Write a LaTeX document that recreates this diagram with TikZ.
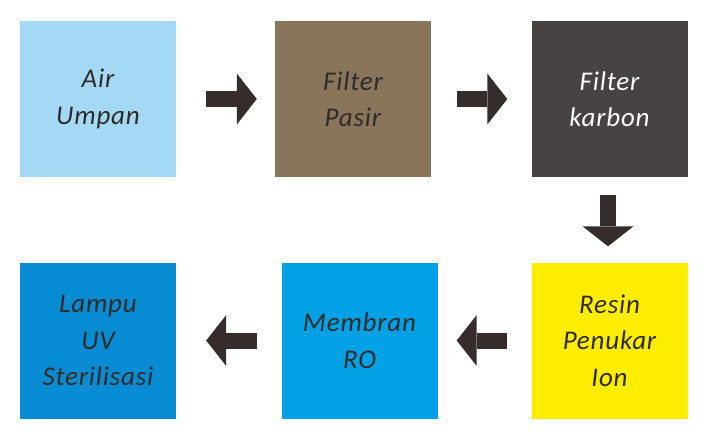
\documentclass[tikz,border=0pt]{standalone}
\usepackage{fontspec}
\setmainfont{Carlito}[LetterSpace=3]
\usetikzlibrary{arrows.meta}
\definecolor{umpanblue}{HTML}{A3D9F5}
\definecolor{sandbrown}{HTML}{89765A}
\definecolor{carbongray}{HTML}{474342}
\definecolor{resinyellow}{HTML}{FFED00}
\definecolor{roblue}{HTML}{00A1E5}
\definecolor{uvblue}{HTML}{078BD3}
\definecolor{arrowdark}{HTML}{342D2B}
\definecolor{textdark}{HTML}{2F2B2A}
\tikzset{
    proc-box/.style={
        rectangle, inner sep=0pt, minimum width=156pt, minimum height=156pt,
        align=center, text=textdark, font=\fontsize{27}{36.5}\selectfont\itshape
    },
    flow-arrow/.style={
        draw=arrowdark, line width=16pt,
        -{Triangle[length=20pt, width=51pt, line width=0pt]}
    },
}

\begin{document}
\begin{tikzpicture}[x=1pt, y=-1pt]

        \useasboundingbox (0,0) rectangle (706,440);

        % TOP ROW
        \node[proc-box, fill=umpanblue]  (AIR)    at (98,99)    {Air\\Umpan};
        \node[proc-box, fill=sandbrown]  (PASIR)  at (353,99)   {Filter\\Pasir};
        \node[proc-box, fill=carbongray, text=white] (KARBON) at (609.5,99) {Filter\\karbon};

        % BOTTOM ROW
        \node[proc-box, fill=resinyellow] (RESIN) at (609.5,340.5) {Resin\\Penukar\\Ion};
        \node[proc-box, fill=roblue]      (RO)    at (359.5,340.5) {Membran\\RO};
        \node[proc-box, fill=uvblue]      (UV)    at (98,340.5)    {Lampu\\UV\\Sterilisasi};

        % FLOW ARROWS
        \draw[flow-arrow, shorten <=30pt, shorten >=18pt] (AIR) -- (PASIR);
        \draw[flow-arrow, shorten <=25.5pt, shorten >=24pt] (PASIR) -- (KARBON);
        \draw[flow-arrow, shorten <=18pt, shorten >=16pt] ([xshift=-1.5pt]KARBON.south) -- ([xshift=-1.5pt]RESIN.north);
        \draw[flow-arrow, shorten <=24pt, shorten >=19pt] (RESIN) -- (RO);
        \draw[flow-arrow, shorten <=24pt, shorten >=30pt] (RO) -- (UV);

    \end{tikzpicture}
\end{document}
